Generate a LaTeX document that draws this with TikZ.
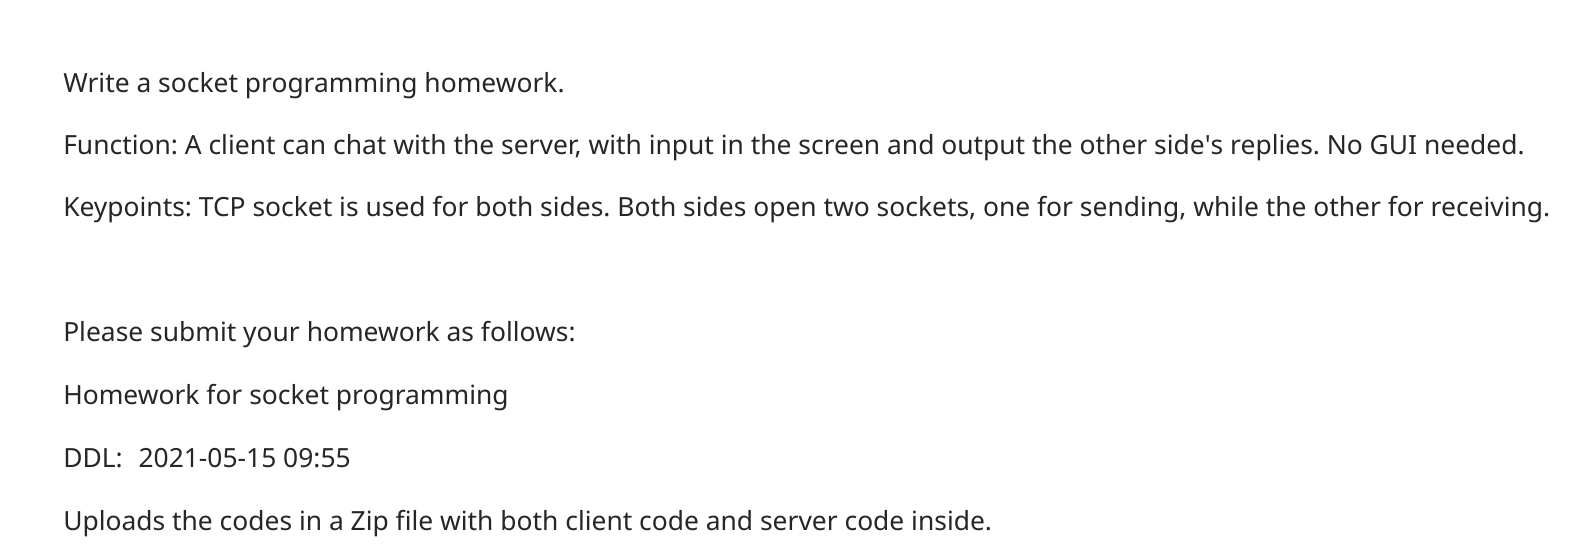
\documentclass[tikz,border=0pt]{standalone}
\usepackage{fontspec}
\setmainfont[Ligatures=NoCommon]{Noto Sans}
\begin{document}
\frenchspacing
\begin{tikzpicture}[x=0.75pt,y=-0.75pt,txt/.style={anchor=base west,inner sep=0pt,font=\fontsize{19.8pt}{22pt}\selectfont\frenchspacing,text=black!85}]
\useasboundingbox[fill=white] (0,0) rectangle (1587,554);
\node[txt] (l1) at (63,92) {Write a socket programming homework.};
\node[txt] (l2) at (63,154) {Function: A client can chat with the server, with input in the screen and output the other side\textquotesingle s replies. No GUI needed.};
\node[txt] (l3) at (63,216) {Keypoints: TCP socket is used for both sides. Both sides open two sockets, one for sending, while the other for receiving.};
\node[txt] (l4) at (63,341) {Please submit your homework as follows:};
\node[txt] (l5) at (63,404) {Homework for socket programming};
\node[txt] (l6) at (63,467) {DDL:\hspace{0.6em}2021-05-15 09:55};
\node[txt] (l7) at (63,530) {Uploads the codes in a Zip file with both client code and server code inside.};
\end{tikzpicture}
\end{document}
